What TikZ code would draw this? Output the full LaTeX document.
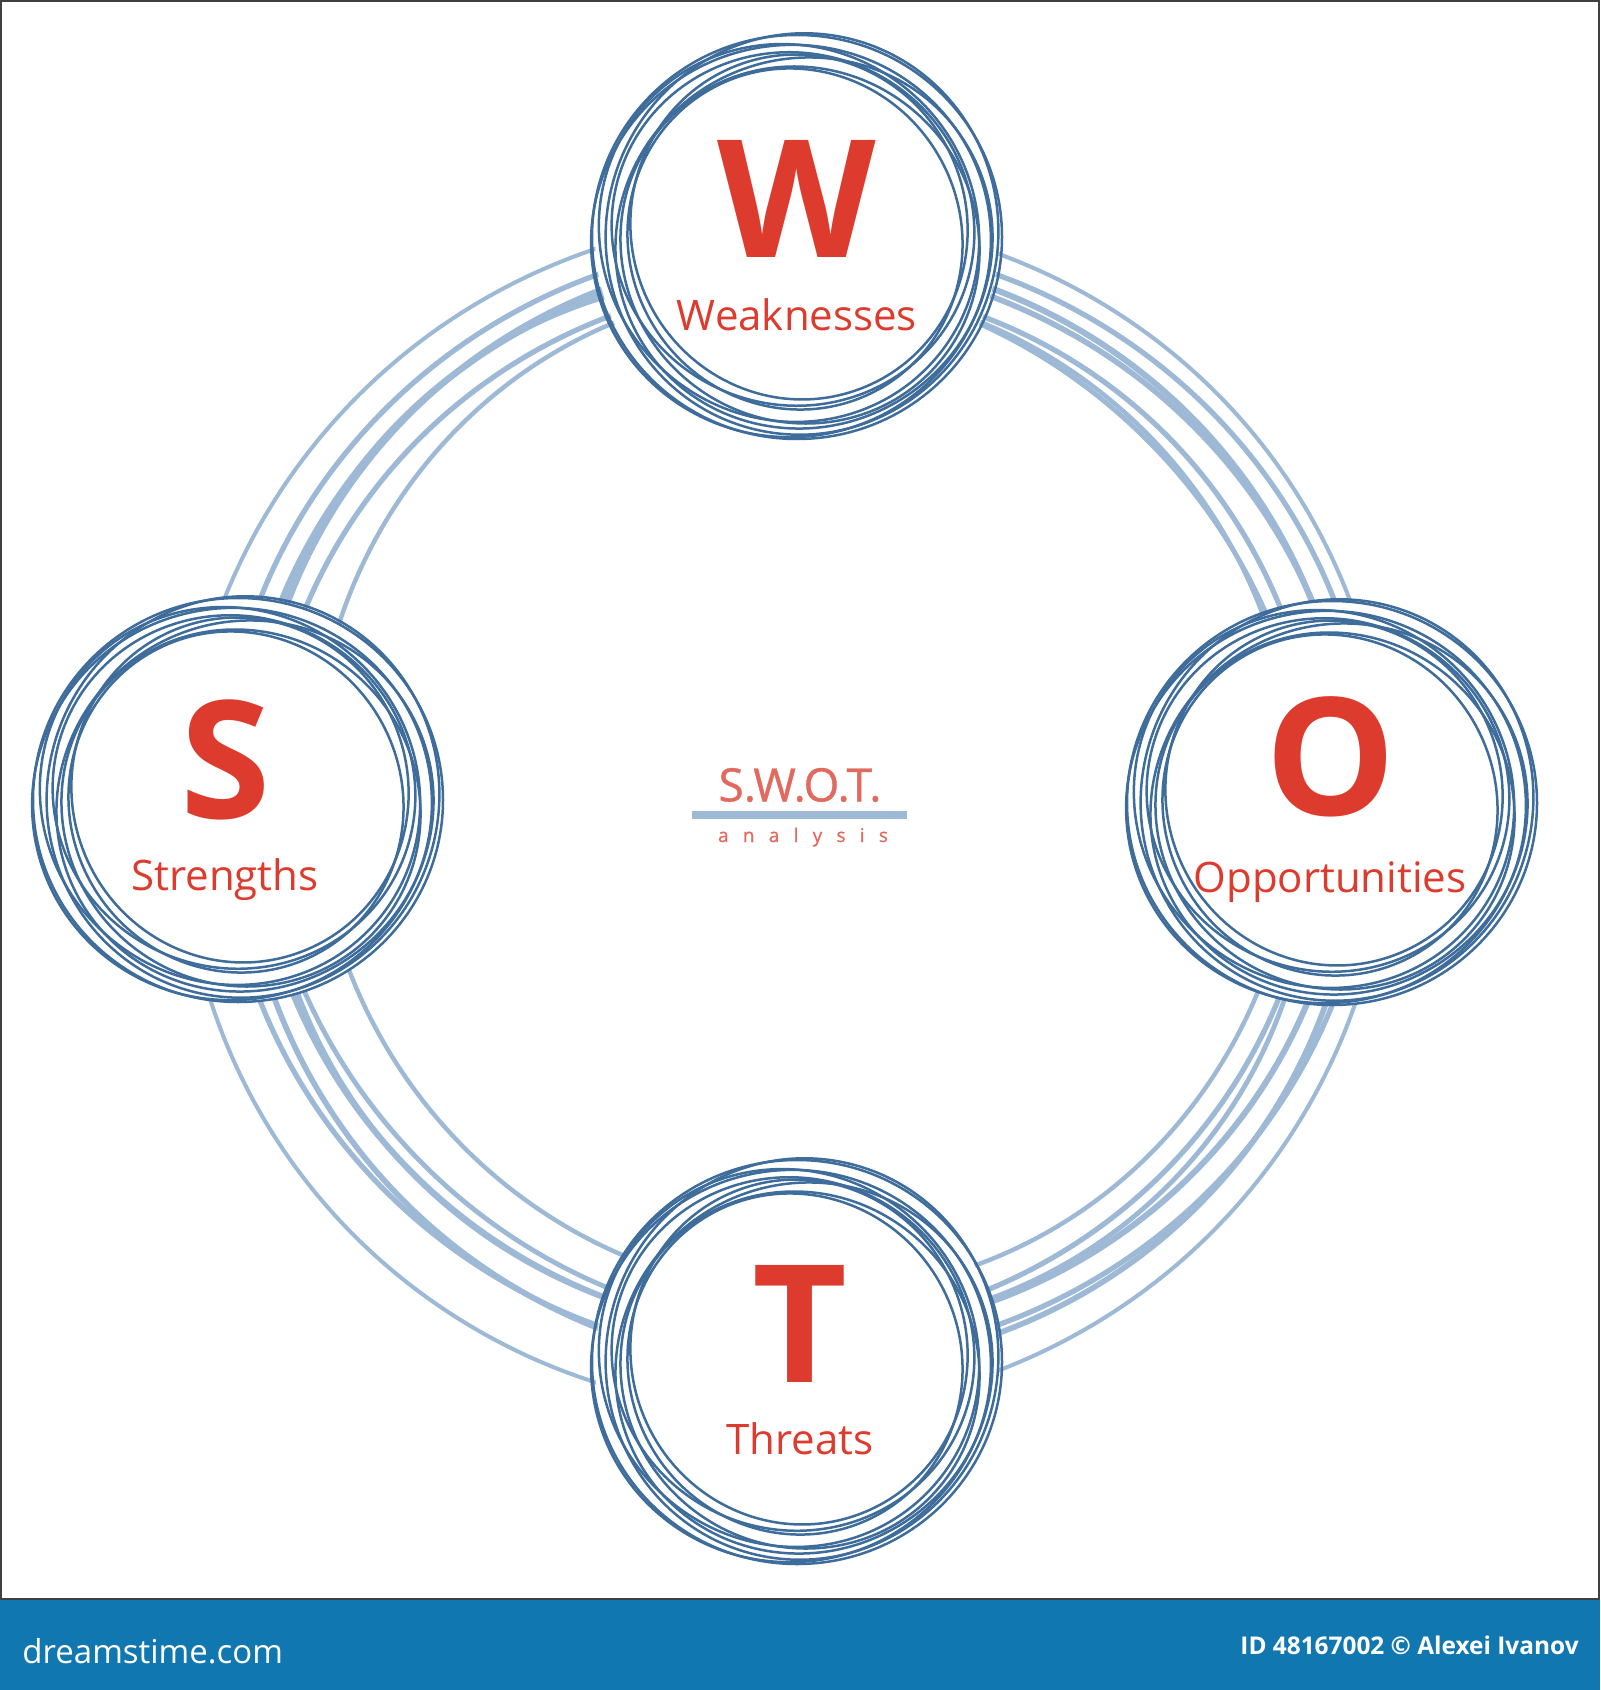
\documentclass[tikz,border=0pt]{standalone}
\usepackage{fontspec}
\setmainfont{Open Sans}
\newfontfamily\spacedfont[LetterSpace=75,FakeBold=0.6]{Open Sans}
\newfontfamily\titlefont[FakeBold=0.8]{Open Sans}
\usetikzlibrary{positioning}

\definecolor{swotred}{HTML}{DD3B2E}
\definecolor{swotpink}{HTML}{E2695E}
\definecolor{ringblue}{HTML}{9DB9D6}
\definecolor{sketchblue}{HTML}{3E6C9B}
\definecolor{bannerblue}{HTML}{1077B0}

\tikzset{
  ringline/.style={draw=ringblue,line width=2.6pt},
  sketchline/.style={draw=sketchblue,line width=1.25pt},
  bigletter/.style={text=swotred,font=\fontsize{82}{82}\selectfont\bfseries,inner sep=0pt},
  labeltext/.style={text=swotred,font=\fontsize{21}{21}\selectfont,inner sep=0pt,anchor=base},
}

% a hand drawn looking circle: centre x, centre y
\newcommand{\sketchcircle}[2]{%
  \fill[white] (#1,#2) circle (202);
  \foreach \dx/\dy/\rx/\ry/\rot in {0/0/205/202/0,-6/4/200/196/10,5/-3/196/201/-15,7/6/190/184/30,
      -8/-4/186/193/50,3/8/182/176/-40,-4/-8/176/182/70,2/-10/168/173/20,-2/2/172/166/-60}
    \draw[sketchline,rotate around={\rot:(#1+\dx,#2+\dy)}] (#1+\dx,#2+\dy) ellipse [x radius=\rx,y radius=\ry];
}

\begin{document}
\begin{tikzpicture}[x=0.5pt,y=-0.5pt]
\useasboundingbox (0,0) rectangle (1600,1690);
\fill[white] (0,0) rectangle (1600,1690);
% big ring
\foreach \dx/\dy/\rx/\ry/\rot/\lw in {0/0/575/560/0/2.6,-12/14/604/596/20/2,4/-6/548/540/-10/3,-6/6/528/522/30/2.6,
    8/-10/490/505/15/2.2,2/14/560/552/-25/2.8,-12/2/512/542/45/2.4}
  \draw[ringline,line width=\lw pt,rotate around={\rot:(797+\dx,800+\dy)}] (797+\dx,800+\dy) ellipse [x radius=\rx,y radius=\ry];
% the four circles
\sketchcircle{797}{237}
\sketchcircle{238}{800}
\sketchcircle{1332}{803}
\sketchcircle{797}{1362}
\node[bigletter] (W) at (797,199) {W};
\node[labeltext] (Wlabel) at (797,331) {Weaknesses};
\node[bigletter] (S) at (226,760) {S};
\node[labeltext] (Slabel) at (225,890) {Strengths};
\node[bigletter] (O) at (1331,757) {O};
\node[labeltext] (Olabel) at (1330,892) {Opportunities};
\node[bigletter] (T) at (800,1324) {T};
\node[labeltext] (Tlabel) at (800,1454) {Threats};
% centre title
\node[text=swotpink,font=\titlefont\fontsize{23}{23}\selectfont,inner sep=0pt] (swot) at (800,785) {S.W.O.T.};
\fill[ringblue] (692,811) rectangle (907,819);
\node[text=swotpink,font=\spacedfont\fontsize{9.5}{9.5}\selectfont,inner sep=0pt,anchor=base] (analysis) at (803,842) {analysis};
% banner
\fill[bannerblue] (0,1599) rectangle (1600,1690);
\draw[black!75,line width=1pt] (1,1) rectangle (1599,1599);
\node[text=white,font=\fontsize{16.5}{16.5}\selectfont,inner sep=0pt,anchor=base west] (site) at (22,1663) {dreamstime.com};
\node[text=white,font=\bfseries\fontsize{12.2}{12.2}\selectfont,inner sep=0pt,anchor=base east] (credit) at (1579,1654) {ID 48167002 © Alexei Ivanov};
\end{tikzpicture}
\end{document}
